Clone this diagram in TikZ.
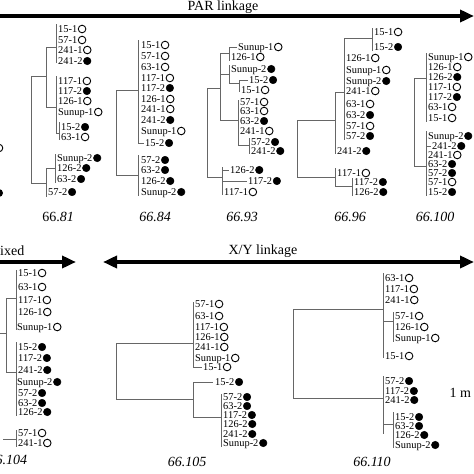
\documentclass[tikz,border=0pt]{standalone}
\usepackage{fontspec}
\setmainfont{Liberation Serif}
\usetikzlibrary{arrows.meta}
\begin{document}
\begin{tikzpicture}[x=1pt,y=-1pt,>={Triangle[length=14pt,width=12pt]},
    tree/.style={draw=black!60,line width=.8pt},
    leaf/.style={anchor=west,inner sep=0pt,text height=7pt,text depth=0pt,font=\fontsize{10.4}{10}\selectfont},
    one/.style={draw=black,line width=.9pt,fill=white},
    two/.style={fill=black},
    big/.style={line width=3.5pt},
    ttl/.style={font=\fontsize{14}{14}\selectfont},
    num/.style={font=\fontsize{14}{14}\selectfont\itshape}]
    \useasboundingbox (0,0) rectangle (474,474);
    % arrows and titles
    \coordinate (p0) at (-5,16);
    \coordinate (p1) at (474,16);
    \draw[big,->] (p0) -- (p1);
    \node[ttl] (par) at (223,7) {PAR linkage};
    \coordinate (m0) at (-5,262);
    \coordinate (m1) at (76,262);
    \draw[big,->] (m0) -- (m1);
    \node[ttl,anchor=west,inner sep=0pt] (mix) at (0,251) {ixed};
    \coordinate (x0) at (103,262);
    \coordinate (x1) at (474,262);
    \draw[big,<->] (x0) -- (x1);
    \node[ttl] (xy) at (263,251) {X/Y linkage};
    % cut-off tree at the left
    \draw[one] (-1,148) circle (3.8pt);
    \fill[two] (-1,193) circle (4pt);
    % 66.81
    \draw[tree] (56,24) -- (56,63) (56,76) -- (56,133) -- (59,133) (59,122) -- (59,140)
        (56,47) -- (46,47) -- (46,107) -- (56,107)
        (46,76) -- (31,76) -- (31,183) -- (46,183)
        (46,168) -- (46,197) (46,168) -- (55,168) (55,154) -- (55,183);
    \foreach \x/\y/\t/\s in {58/29/15-1/one,58/40/57-1/one,58/50/241-1/one,58/61/241-2/two,
        58/81/117-1/one,58/91/117-2/two,58/101/126-1/one,58/112/Sunup-1/one,
        61/127/15-2/two,61/137/63-1/one,
        57/158/Sunup-2/two,57/168/126-2/two,57/179/63-2/two,48/192/57-2/two}{
        \node[leaf] (t) at (\x,\y) {\t};
        \draw[\s] ([xshift=4.6pt]t.east) circle (3.8pt);
    }
    \node[ttl] (l81) at (58,217) {66.\textit{81}};
    % 66.84
    \draw[tree] (138,40) -- (138,143) -- (144,143) (138,155) -- (138,196)
        (138,90) -- (116,90) -- (116,175) -- (138,175);
    \foreach \x/\y/\t/\s in {141/45/15-1/one,141/56/57-1/one,141/67/63-1/one,141/78/117-1/one,
        141/88/117-2/two,141/99/126-1/one,141/109/241-1/one,141/120/241-2/two,
        141/131/Sunup-1/one,145/143/15-2/two,
        141/160/57-2/two,141/170/63-2/two,141/181/126-2/two,141/192/Sunup-2/two}{
        \node[leaf] (t) at (\x,\y) {\t};
        \draw[\s] ([xshift=4.6pt]t.east) circle (3.8pt);
    }
    \node[num] (l84) at (155,217) {66.84};
    % 66.93
    \draw[tree] (237,47) -- (229,47) -- (229,61) (229,65) -- (229,83) -- (239,83)
        (248,80) -- (239,80) -- (239,92)
        (229,53) -- (220,53) -- (220,120) -- (238,120) (220,74) -- (229,74)
        (238,100) -- (238,145) -- (249,145) (249,138) -- (249,154)
        (220,88) -- (207,88) -- (207,177) -- (222,177)
        (222,167) -- (222,195) (222,170) -- (229,170) (222,181) -- (247,181);
    \foreach \x/\y/\t/\s in {238/47/Sunup-1/one,231/57/126-1/one,231/69/Sunup-2/two,
        249/80/15-2/two,241/90/15-1/one,
        240/102/57-1/one,240/111/63-1/one,240/121/63-2/two,240/131/241-1/one,
        251/142/57-2/two,251/151/241-2/two,
        230/170/126-2/two,248/181/117-2/two,224/192/117-1/one}{
        \node[leaf] (t) at (\x,\y) {\t};
        \draw[\s] ([xshift=4.6pt]t.east) circle (3.8pt);
    }
    \node[num] (l93) at (242,217) {66.93};
    % 66.96
    \draw[tree] (372,28) -- (372,51) (372,38) -- (344,38) -- (344,140)
        (344,92) -- (335,92) -- (335,154)
        (335,120) -- (297,120) -- (297,177) -- (335,177)
        (335,168) -- (335,186) -- (352,186) (352,178) -- (352,196);
    \foreach \x/\y/\t/\s in {374/32/15-1/one,374/47/15-2/two,
        346/58/126-1/one,346/70/Sunup-1/one,346/81/Sunup-2/two,346/91/241-1/one,
        346/104/63-1/one,346/115/63-2/two,346/126/57-1/one,346/136/57-2/two,
        337/151/241-2/two,337/173/117-1/one,354/182/117-2/two,354/192/126-2/two}{
        \node[leaf] (t) at (\x,\y) {\t};
        \draw[\s] ([xshift=4.6pt]t.east) circle (3.8pt);
    }
    \node[num] (l96) at (350,217) {66.96};
    % 66.100
    \draw[tree] (426,53) -- (426,122) (426,131) -- (426,196) (426,146) -- (431,146)
        (426,78) -- (414,78) -- (414,166) -- (426,166);
    \foreach \x/\y/\t/\s in {428/57/Sunup-1/one,428/67/126-1/one,428/77/126-2/two,
        428/87/117-1/one,428/97/117-2/two,428/107/63-1/one,428/118/15-1/one,
        428/136/Sunup-2/two,432/146/241-2/two,428/155/241-1/one,428/164/63-2/two,
        428/173/57-2/two,428/182/57-1/one,428/192/15-2/two}{
        \node[leaf] (t) at (\x,\y) {\t};
        \draw[\s] ([xshift=4.6pt]t.east) circle (3.8pt);
    }
    \node[num] (l100) at (435,217) {66.100};
    % 66.104
    \draw[tree] (16,270) -- (16,330) (16,342) -- (16,416)
        (16,298) -- (6,298) -- (6,372) -- (16,372) (-2,333) -- (6,333)
        (16,430) -- (16,447) (3,439) -- (16,439);
    \foreach \x/\y/\t/\s in {18/273/15-1/one,18/287/63-1/one,18/300/117-1/one,
        18/312/126-1/one,17/327/Sunup-1/one,
        18/347/15-2/two,18/358/117-2/two,18/370/241-2/two,17/382/Sunup-2/two,
        18/393/57-2/two,18/403/63-2/two,18/412/126-2/two,
        18/433/57-1/one,18/443/241-1/one}{
        \node[leaf] (t) at (\x,\y) {\t};
        \draw[\s] ([xshift=4.6pt]t.east) circle (3.8pt);
    }
    \node[num] (l104) at (8,460) {66.104};
    % 66.105
    \draw[tree] (193,302) -- (193,367) -- (202,367)
        (213,382) -- (193,382) -- (193,417) -- (221,417) (221,394) -- (221,447)
        (193,343) -- (116,343) -- (116,399) -- (193,399);
    \foreach \x/\y/\t/\s in {195/304/57-1/one,195/316/63-1/one,195/327/117-1/one,
        195/337/126-1/one,195/347/241-1/one,195/358/Sunup-1/one,203/367/15-1/one,
        215/382/15-2/two,223/397/57-2/two,223/406/63-2/two,223/415/117-2/two,
        223/424/126-2/two,223/434/241-2/two,223/443/Sunup-2/two}{
        \node[leaf] (t) at (\x,\y) {\t};
        \draw[\s] ([xshift=4.6pt]t.east) circle (3.8pt);
    }
    \node[num] (l105) at (187,462) {66.105};
    % 66.110
    \draw[tree] (383,273) -- (383,358) (383,321) -- (393,321) (393,312) -- (393,342)
        (383,376) -- (383,434) (383,424) -- (393,424) (393,412) -- (393,448)
        (383,309) -- (293,309) -- (293,398) -- (383,398);
    \foreach \x/\y/\t/\s in {385/278/63-1/one,385/289/117-1/one,385/300/241-1/one,
        395/316/57-1/one,395/327/126-1/one,395/338/Sunup-1/one,385/356/15-1/one,
        385/381/57-2/two,385/391/117-2/two,385/400/241-2/two,
        395/417/15-2/two,395/426/63-2/two,395/435/126-2/two,395/445/Sunup-2/two}{
        \node[leaf] (t) at (\x,\y) {\t};
        \draw[\s] ([xshift=4.6pt]t.east) circle (3.8pt);
    }
    \node[num] (l110) at (372,462) {66.110};
    \node[ttl,anchor=west] (bar) at (446,393) {1 m};
\end{tikzpicture}
\end{document}
